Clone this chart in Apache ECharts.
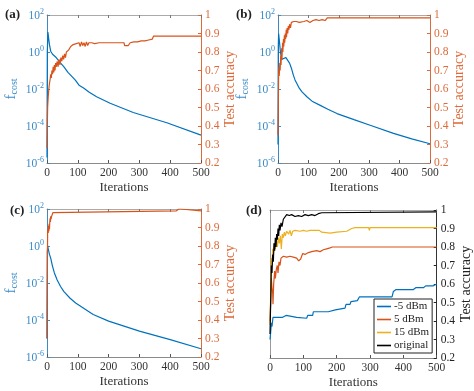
<!DOCTYPE html>
<html><head><meta charset="utf-8">
<script src="https://cdn.jsdelivr.net/npm/echarts@6/dist/echarts.min.js"></script>
<style>html,body{margin:0;padding:0;background:#fff}#c{width:474px;height:391px}</style>
</head><body><div id="c"></div>
<script>
// ---------- data ----------
const panelLabels = ['(a)', '(b)', '(c)', '(d)'];
const xName = 'Iterations';
const accName = 'Test accuracy';
const legendNames = ['-5 dBm', '5 dBm', '15 dBm', 'original'];

const costA = [[0,2e-6],[1,1],[3,12],[5,6],[8,2.5],[12,1.1],[18,0.75],[28,0.54],[40,0.3],[55,0.155],[68,0.08],[82,0.045],[92,0.03],[96,0.028],[104,0.016],[120,0.011],[136,0.0069],[161,0.0038],[205,0.0017],[280,0.00054],[389,0.00015],[500,3.2e-5]];
const accA = [[0,0.28],[1,0.4],[2,0.5],[4,0.56],[6,0.6],[8,0.63],[10,0.65],[12,0.68],[14,0.66],[16,0.7],[18,0.68],[20,0.72],[22,0.69],[24,0.73],[26,0.7],[28,0.74],[30,0.72],[33,0.75],[36,0.72],[39,0.76],[42,0.73],[45,0.77],[48,0.75],[51,0.78],[54,0.76],[57,0.79],[60,0.77],[63,0.8],[66,0.79],[70,0.81],[73,0.8],[77,0.83],[80,0.82],[85,0.84],[90,0.835],[95,0.845],[100,0.84],[104,0.85],[108,0.83],[112,0.855],[116,0.835],[120,0.85],[124,0.83],[128,0.855],[132,0.835],[136,0.85],[140,0.84],[145,0.85],[155,0.845],[169,0.85],[250,0.85],[252,0.835],[258,0.845],[264,0.835],[270,0.85],[276,0.84],[282,0.855],[288,0.845],[294,0.855],[300,0.845],[306,0.86],[312,0.85],[318,0.86],[324,0.85],[330,0.865],[336,0.855],[342,0.87],[346,0.886],[500,0.886]];

const costB = [[0,1e-5],[1,2],[2,10],[4,5],[8,1],[12,0.4],[18,0.45],[26,0.5],[32,0.4],[38,0.25],[45,0.12],[50,0.06],[56,0.031],[62,0.02],[70,0.011],[79,0.007],[95,0.0038],[112,0.0022],[139,0.0013],[164,0.0008],[194,0.00047],[250,0.00022],[303,0.00011],[380,4e-5],[440,2e-5],[500,1.1e-5]];
const accB = [[0,0.35],[1,0.5],[2,0.68],[3,0.72],[4,0.67],[6,0.74],[7,0.7],[9,0.78],[10,0.73],[12,0.82],[13,0.76],[15,0.85],[16,0.8],[18,0.87],[19,0.83],[21,0.89],[22,0.85],[24,0.9],[25,0.87],[27,0.92],[28,0.88],[30,0.93],[32,0.9],[34,0.94],[36,0.92],[38,0.95],[41,0.93],[44,0.96],[48,0.95],[52,0.965],[60,0.965],[70,0.96],[75,0.97],[85,0.965],[95,0.97],[105,0.96],[115,0.97],[125,0.975],[135,0.97],[145,0.975],[155,0.97],[162,0.985],[500,0.985]];

const costC = [[0,1e-5],[1,0.5],[2,1],[4,0.7],[8,0.35],[12,0.22],[18,0.08],[24,0.035],[33,0.0145],[44,0.0065],[55,0.0034],[75,0.0015],[93,0.00083],[150,0.0002],[200,8.7e-5],[300,2.5e-5],[400,8.7e-6],[500,2.8e-6]];
const accC = [[0,0.3],[1,0.6],[2,0.87],[3,0.9],[4,0.87],[5,0.91],[6,0.88],[7,0.92],[8,0.89],[9,0.93],[10,0.95],[11,0.93],[12,0.96],[13,0.945],[15,0.96],[17,0.97],[19,0.98],[22,0.99],[420,0.99],[421,1.0],[425,0.995],[428,1.0],[432,0.995],[435,1.0],[441,0.99],[500,0.99]];

const accDm5 = [[0,0.3],[2,0.34],[4,0.39],[6,0.37],[9,0.42],[12,0.41],[18,0.42],[38,0.42],[40,0.43],[48,0.43],[50,0.42],[80,0.42],[84,0.415],[110,0.415],[113,0.43],[128,0.43],[130,0.45],[175,0.45],[180,0.455],[196,0.46],[200,0.47],[225,0.47],[228,0.49],[240,0.49],[243,0.505],[262,0.51],[268,0.53],[366,0.53],[370,0.56],[378,0.57],[430,0.57],[437,0.58],[460,0.58],[467,0.59],[490,0.59],[495,0.6],[500,0.6]];
const accD5 = [[0,0.4],[2,0.5],[4,0.63],[6,0.58],[8,0.55],[9,0.49],[11,0.6],[14,0.67],[16,0.63],[19,0.68],[22,0.7],[24,0.66],[27,0.72],[30,0.7],[33,0.74],[36,0.73],[40,0.75],[50,0.745],[60,0.75],[70,0.745],[80,0.74],[86,0.725],[92,0.735],[98,0.765],[105,0.76],[115,0.77],[125,0.775],[140,0.78],[150,0.775],[160,0.785],[170,0.79],[180,0.795],[187,0.8],[500,0.8]];
const accD15 = [[0,0.38],[2,0.55],[4,0.74],[6,0.7],[8,0.79],[10,0.76],[13,0.82],[16,0.79],[19,0.84],[22,0.8],[25,0.85],[28,0.82],[31,0.86],[34,0.79],[37,0.87],[40,0.85],[43,0.88],[46,0.86],[50,0.885],[56,0.87],[60,0.89],[64,0.86],[68,0.885],[75,0.89],[90,0.885],[100,0.89],[105,0.9],[110,0.885],[120,0.89],[148,0.89],[150,0.9],[155,0.88],[160,0.875],[180,0.875],[200,0.88],[230,0.885],[245,0.9],[250,0.89],[255,0.905],[296,0.905],[298,0.89],[300,0.905],[500,0.905]];
const accDorig = [[0,0.33],[2,0.5],[4,0.7],[6,0.66],[8,0.76],[10,0.72],[12,0.82],[14,0.78],[16,0.85],[18,0.8],[20,0.87],[22,0.84],[24,0.9],[26,0.86],[28,0.92],[30,0.89],[33,0.93],[36,0.91],[40,0.95],[44,0.96],[50,0.975],[58,0.97],[65,0.975],[75,0.965],[85,0.97],[95,0.965],[105,0.975],[115,0.97],[125,0.975],[135,0.97],[145,0.98],[155,0.985],[160,0.99],[500,0.99]];

// ---------- chart ----------
const FONT = "'Liberation Serif','Times New Roman',serif";
const BLUE = '#0072BD', ORANGE = '#D95319', YELLOW = '#EDB120', BLACK = '#000000';
const BLUE_T = '#3a8ac6', ORANGE_T = '#dd6a3a';

const grids = [
  {left: 47, top: 15, width: 154, height: 148},
  {left: 278, top: 15, width: 152, height: 148},
  {left: 47, top: 209, width: 154, height: 148},
  {left: 270, top: 210, width: 168, height: 148}
];
const labelPos = [[5, 8], [236, 8], [10, 204], [246, 204]];

const xAxes = [], yAxes = [], series = [];
grids.forEach((g, i) => {
  xAxes.push({
    gridIndex: i, type: 'value', min: 0, max: 500, interval: 100, position: 'bottom',
    axisLine: {onZero: false, lineStyle: {color: '#8a8a8a', width: 1}},
    axisTick: {inside: true, length: 3, lineStyle: {color: '#555'}},
    axisLabel: {color: '#333', fontSize: 11.5, fontFamily: FONT, margin: 4},
    splitLine: {show: false},
    name: xName, nameLocation: 'middle', nameGap: 18,
    nameTextStyle: {color: '#333', fontSize: 13, fontFamily: FONT}
  });
  xAxes.push({
    gridIndex: i, type: 'value', min: 0, max: 500, interval: 100, position: 'top',
    axisLine: {onZero: false, lineStyle: {color: '#aaaaaa', width: 1}},
    axisTick: {inside: true, length: 3, lineStyle: {color: '#777'}},
    axisLabel: {show: false}, splitLine: {show: false}
  });
  if (i < 3) {
    yAxes.push({
      gridIndex: i, type: 'log', min: 1e-6, max: 1e2, interval: 2, position: 'left',
      axisLine: {show: true, onZero: false, lineStyle: {color: BLUE_T, width: 1}},
      axisTick: {show: true, inside: true, length: 3, lineStyle: {color: BLUE_T}},
      splitLine: {show: false},
      axisLabel: {
        margin: 3, fontFamily: FONT,
        formatter: v => '{b|10}{s|' + Math.round(Math.log10(v)) + '}',
        rich: {
          b: {fontSize: 11.5, color: BLUE_T, fontFamily: FONT, verticalAlign: 'bottom', lineHeight: 14},
          s: {fontSize: 8, color: BLUE_T, fontFamily: FONT, verticalAlign: 'top', lineHeight: 14}
        }
      },
      name: '{f|f}{c|cost}', nameLocation: 'middle', nameGap: 28, nameRotate: 90,
      nameTextStyle: {
        rich: {
          f: {fontSize: 15, color: BLUE_T, fontFamily: FONT, verticalAlign: 'bottom', lineHeight: 18},
          c: {fontSize: 10, color: BLUE_T, fontFamily: FONT, verticalAlign: 'bottom', lineHeight: 12}
        }
      }
    });
  } else {
    yAxes.push({
      gridIndex: i, type: 'value', min: 0, max: 1, position: 'left',
      axisLine: {show: true, onZero: false, lineStyle: {color: '#9a9a9a', width: 1}},
      axisTick: {show: false}, axisLabel: {show: false}, splitLine: {show: false}
    });
  }
  const rc = i < 3 ? ORANGE_T : '#222';
  yAxes.push({
    gridIndex: i, type: 'value', min: 0.2, max: 1, interval: 0.1, position: 'right',
    axisLine: {show: true, onZero: false, lineStyle: {color: i < 3 ? ORANGE_T : '#333', width: 1}},
    axisTick: {show: true, inside: true, length: 3, lineStyle: {color: rc}},
    splitLine: {show: false},
    axisLabel: {color: rc, fontSize: 11.5, fontFamily: FONT, margin: 4,
      formatter: v => Math.abs(v - 1) < 1e-9 ? '1' : v.toFixed(1)},
    name: accName, nameLocation: 'middle', nameGap: 22, nameRotate: 90,
    nameTextStyle: {color: rc, fontSize: 14, fontFamily: FONT}
  });
});

function line(data, xi, yi, color, name) {
  return {type: 'line', name: name, data: data, xAxisIndex: xi, yAxisIndex: yi,
    showSymbol: false, symbol: 'none', animation: false, silent: true,
    lineStyle: {color: color, width: 1.2}, itemStyle: {color: color}};
}
series.push(line(costA, 0, 0, BLUE), line(accA, 0, 1, ORANGE));
series.push(line(costB, 2, 2, BLUE), line(accB, 2, 3, ORANGE));
series.push(line(costC, 4, 4, BLUE), line(accC, 4, 5, ORANGE));
series.push(line(accDm5, 6, 7, BLUE, legendNames[0]));
series.push(line(accD5, 6, 7, ORANGE, legendNames[1]));
series.push(line(accD15, 6, 7, YELLOW, legendNames[2]));
series.push(line(accDorig, 6, 7, BLACK, legendNames[3]));

const chart = echarts.init(document.getElementById('c'), null, {renderer: 'canvas'});
chart.setOption({
  animation: false,
  backgroundColor: '#fff',
  grid: grids,
  xAxis: xAxes,
  yAxis: yAxes,
  series: series,
  legend: {
    data: legendNames, orient: 'vertical', left: 374, top: 299,
    icon: 'rect', itemWidth: 14, itemHeight: 1.6, itemGap: 2,
    padding: [2, 3, 2, 3], borderColor: '#222', borderWidth: 1, backgroundColor: '#fff',
    textStyle: {fontSize: 11, fontFamily: FONT, color: '#222', padding: [0, 0, 0, -2]},
    selectedMode: false
  },
  graphic: panelLabels.map((t, i) => ({
    type: 'text', left: labelPos[i][0], top: labelPos[i][1],
    style: {text: t, fontSize: 13, fontFamily: FONT, fontWeight: 'bold', fill: '#222'}
  }))
});
</script>
</body></html>
